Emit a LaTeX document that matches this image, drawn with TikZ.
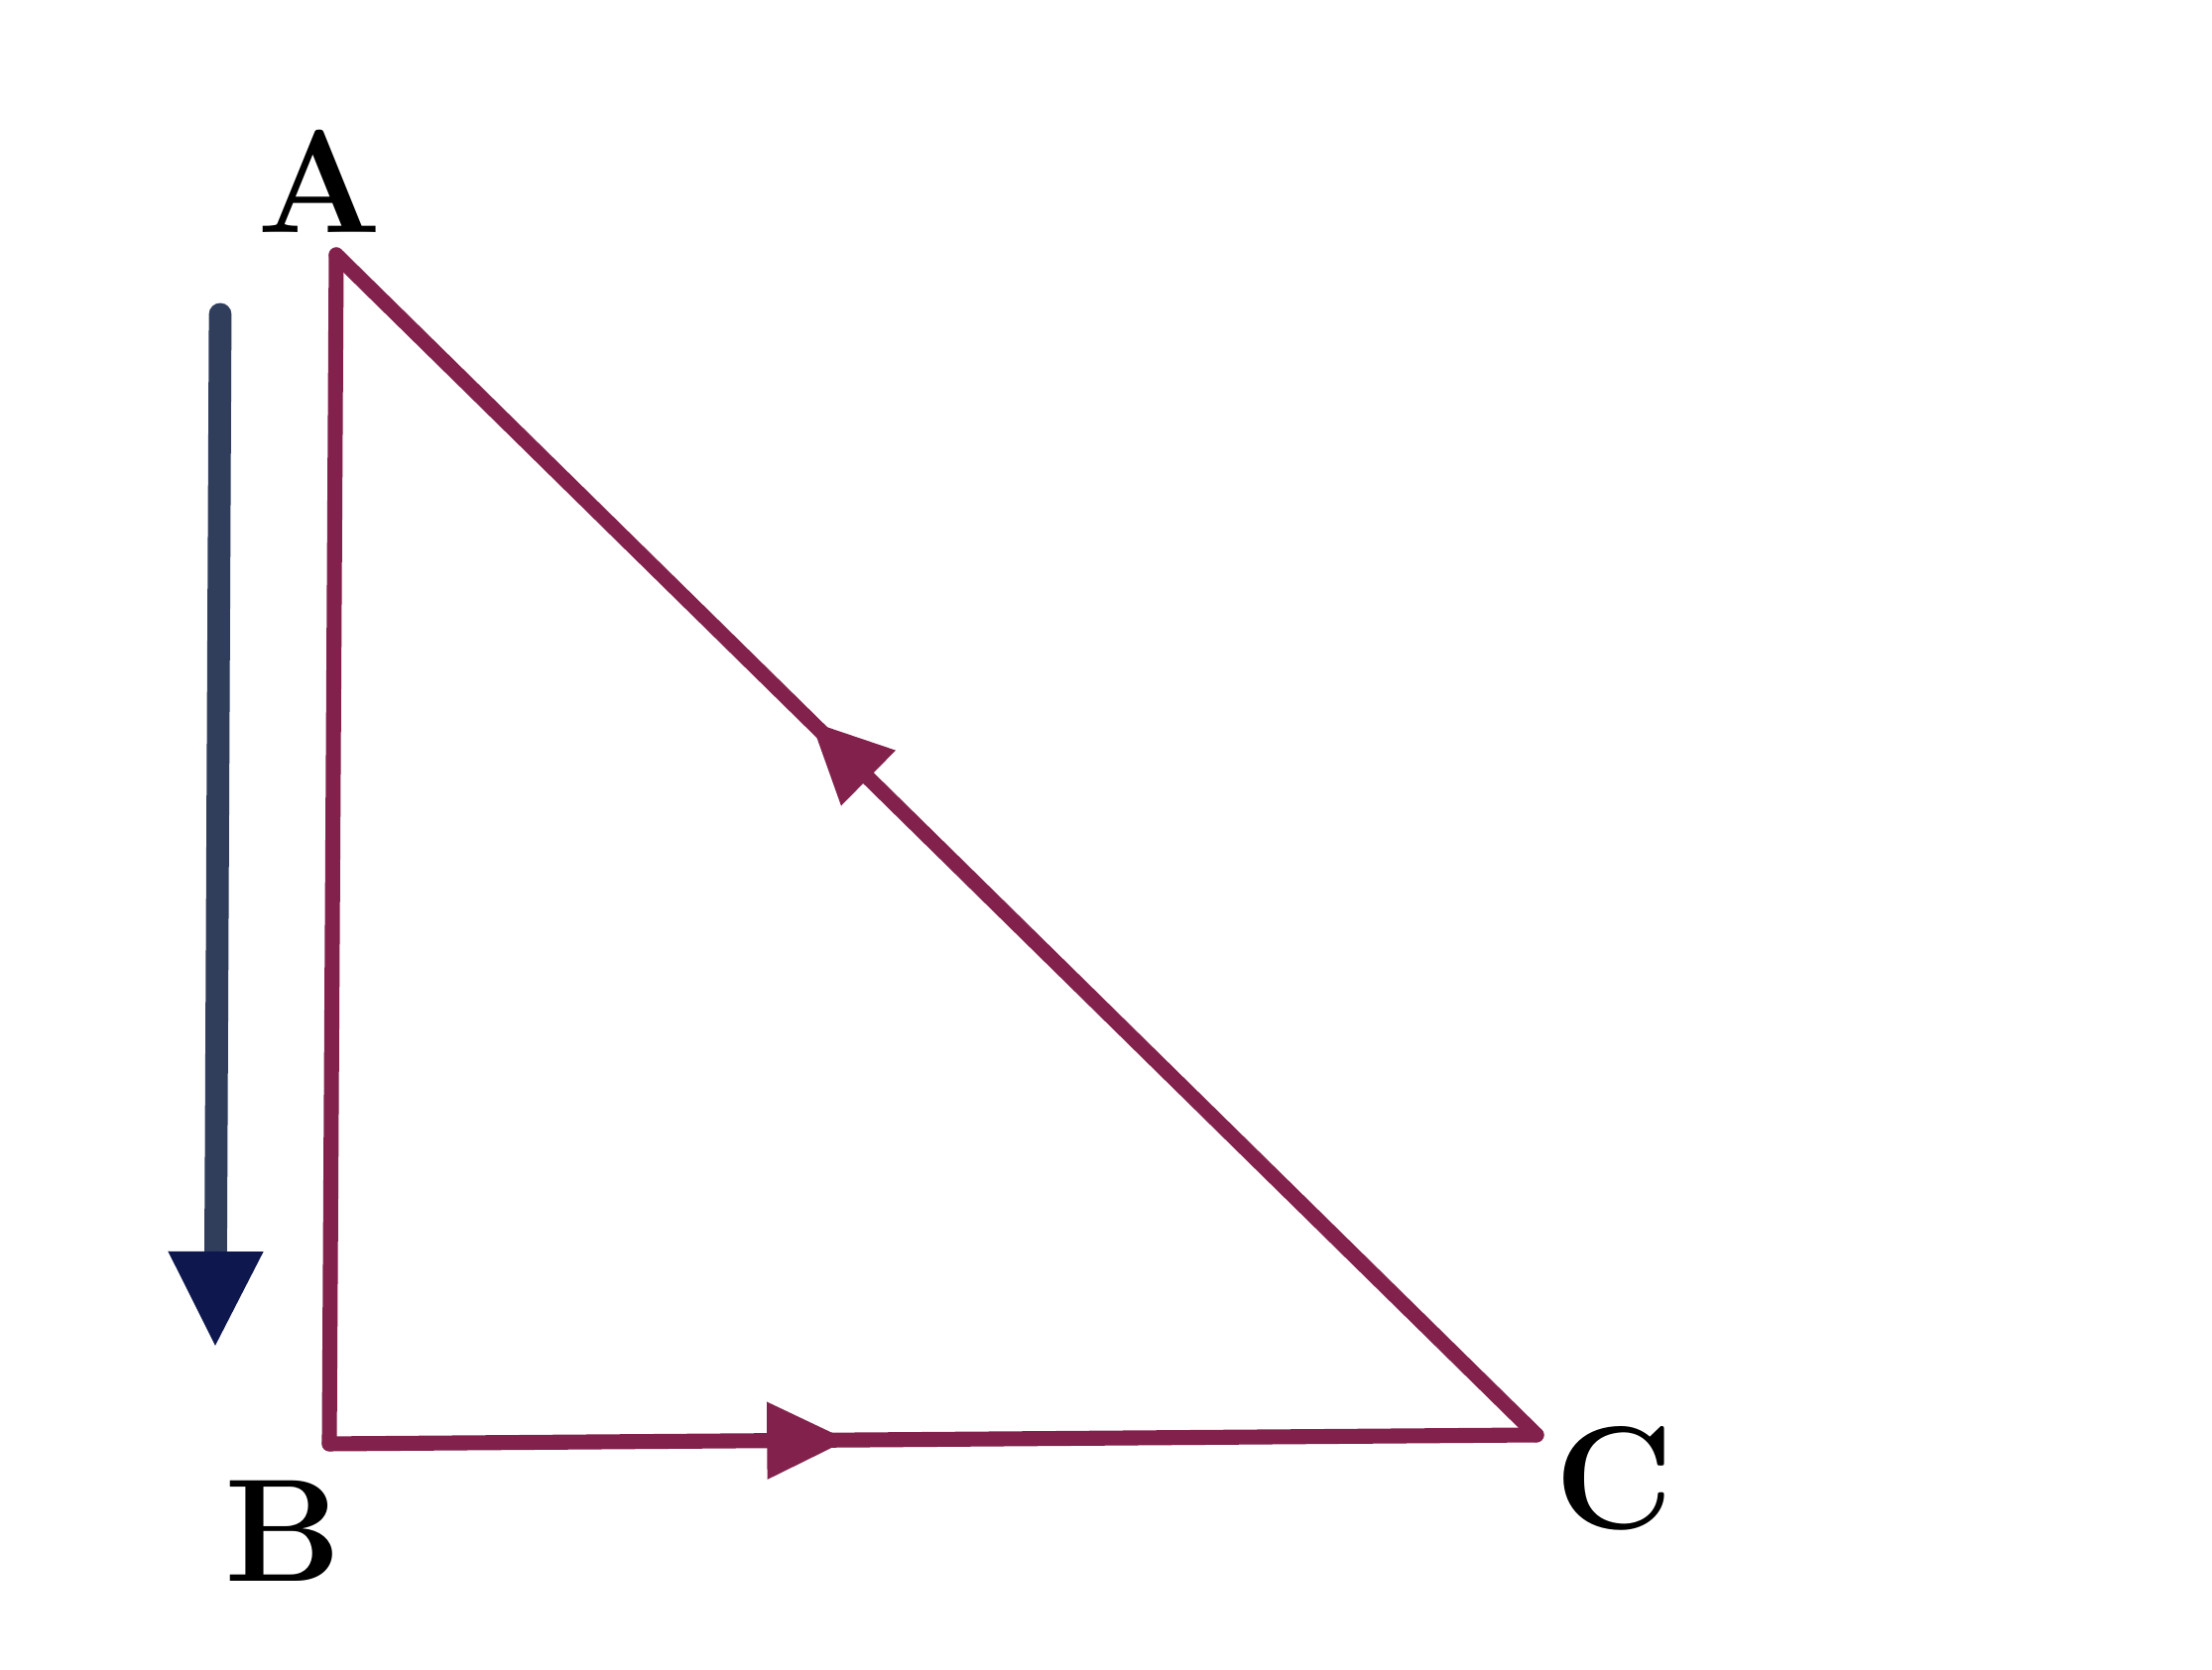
\documentclass[tikz,border=0pt]{standalone}
\usepackage{tikz}
\usetikzlibrary{arrows.meta,decorations.markings,positioning}

\definecolor{trired}{RGB}{130,34,76}
\definecolor{fieldblue}{RGB}{48,62,92}
\definecolor{headblue}{RGB}{14,24,78}

\begin{document}
\begin{tikzpicture}[>={Triangle[length=0.82cm,width=0.74cm]},line cap=round,line join=round]
	\useasboundingbox (0,0) rectangle (22.30,16.84);
	\tikzset{every node/.style={font=\fontsize{42}{50}\selectfont\bfseries}}
	\tikzset{side/.style={draw=trired,line width=4.3pt}}
	\tikzset{midarrow/.style={postaction={decorate},decoration={markings,
		mark=at position #1 with {\arrow[trired]{>}}}}}
	\tikzset{field/.style={draw=fieldblue,line width=6.5pt,
		-{Triangle[length=0.97cm,width=0.89cm,color=headblue]}}}
	% corners of the loop
	\coordinate (A) at (3.39,14.27);
	\coordinate (B) at (3.32,2.28);
	\coordinate (C) at (15.49,2.37);
	\node (la) at (3.22,15.01) {A};
	\node (lb) at (2.86,1.40)  {B};
	\node (lc) at (16.27,1.93) {C};
	% field direction
	\coordinate (F1) at (2.22,13.67);
	\coordinate (F2) at (2.17,3.25);
	\draw[field] (F1) -- (F2);
	\draw[side] (A) -- (B);
	\draw[side,midarrow=0.43] (B) -- (C);
	\draw[side,midarrow=0.605] (C) -- (A);
\end{tikzpicture}
\end{document}
